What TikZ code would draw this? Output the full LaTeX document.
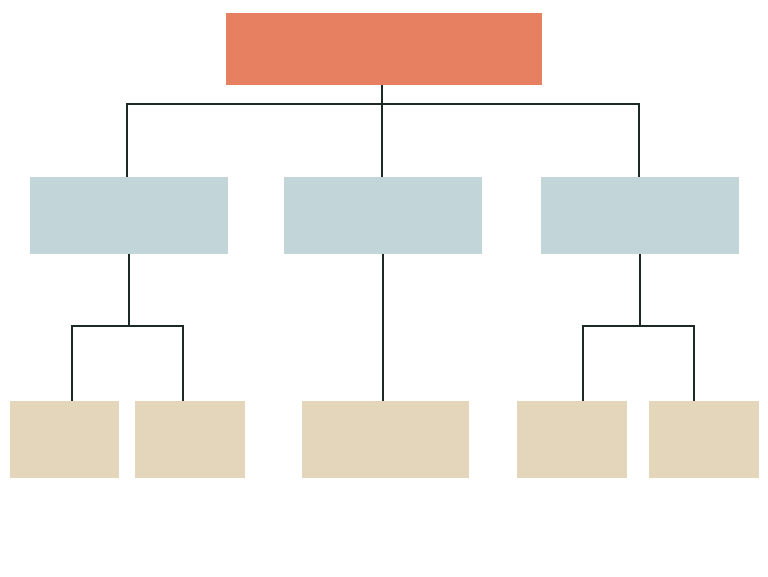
\documentclass[tikz,border=0pt]{standalone}
\usepackage{tikz}
\usetikzlibrary{calc,positioning}
\definecolor{rouge}{HTML}{E68061}
\definecolor{gris}{HTML}{C2D5D9}
\definecolor{sable}{HTML}{E4D6BA}
\definecolor{trait}{HTML}{1B2A27}
\tikzset{
  chef/.style={rectangle, fill=rouge, draw=none, minimum width=316pt, minimum height=72pt, inner sep=0pt},
  adj/.style={rectangle, fill=gris, draw=none, minimum width=198pt, minimum height=77pt, inner sep=0pt},
  feuille/.style={rectangle, fill=sable, draw=none, minimum width=110pt, minimum height=77pt, inner sep=0pt},
  feuillel/.style={rectangle, fill=sable, draw=none, minimum width=167pt, minimum height=77pt, inner sep=0pt},
  line/.style={draw=trait, line width=2.4pt},
}
\begin{document}
\begin{tikzpicture}[x=1pt,y=-1pt]
    \useasboundingbox (0,0) rectangle (768,576);

    \node[chef] (top) at (384,49) {};

    \node[adj] (gauche) at (129,215.5) {};
    \node[adj] (centre) at (383,215.5) {};
    \node[adj] (droite) at (640,215.5) {};

    \node[feuille, minimum width=109pt] (f1) at (64.5,439.5) {};
    \node[feuille] (f2) at (190,439.5) {};
    \node[feuillel] (f3) at (385.5,439.5) {};
    \node[feuille] (f4) at (572,439.5) {};
    \node[feuille] (f5) at (704,439.5) {};

    \coordinate (bar) at (382,104);
    \coordinate (jg) at (129,326);
    \coordinate (jd) at (640,326);

    \begin{scope}[every path/.style=line]
      \path (top.south -| bar) -- (centre.north -| bar);
      \path ($(gauche.north)+(-2,0)$) |- (bar) -| ($(droite.north)+(-1,0)$);

      \path (gauche.south) -- (jg);
      \path (f1.north -| 72,0) |- (jg) -| (f2.north -| 183,0);

      \path (centre.south) -- (f3.north -| centre);

      \path (droite.south) -- (jd);
      \path (f4.north -| 583,0) |- (jd) -| (f5.north -| 694,0);
    \end{scope}

\end{tikzpicture}
\end{document}
